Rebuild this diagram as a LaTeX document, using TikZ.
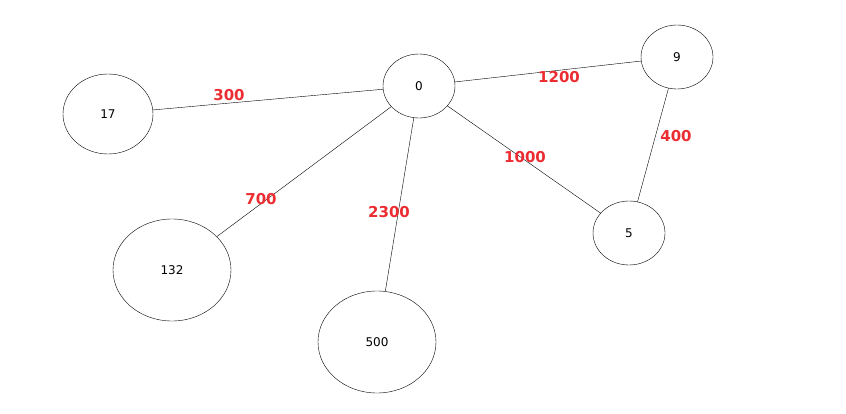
\documentclass[tikz,border=0pt]{standalone}
\usepackage{fontspec}
\setmainfont{DejaVu Sans}
\usetikzlibrary{shapes.geometric}
\definecolor{lbl}{RGB}{235,45,50}
\begin{document}
\begin{tikzpicture}[x=1pt,y=-1pt,
  vert/.style={draw,ellipse,inner sep=0pt,font=\fontsize{12}{14}\selectfont},
  wt/.style={text=lbl,font=\bfseries\fontsize{15}{17}\selectfont}]
\useasboundingbox (0,0) rectangle (846,414);
\node[vert,minimum width=72,minimum height=64] (n0) at (419,86) {0};
\node[vert,minimum width=72,minimum height=64] (n9) at (677,57) {9};
\node[vert,minimum width=90,minimum height=80] (n17) at (108,114) {17};
\node[vert,minimum width=72,minimum height=64] (n5) at (629,233) {5};
\node[vert,minimum width=118,minimum height=102] (n132) at (172,270) {132};
\node[vert,minimum width=118,minimum height=102] (n500) at (377,342) {500};
\draw (n17) -- (n0);
\draw (n0) -- (n132);
\draw (n0) -- (n500);
\draw (n0) -- (n9);
\draw (n0) -- (n5);
\draw (n9) -- (n5);
\node[wt] (w1) at (229,95) {300};
\node[wt] (w2) at (261,199) {700};
\node[wt] (w3) at (389,212) {2300};
\node[wt] (w4) at (525,157) {1000};
\node[wt] (w5) at (559,77) {1200};
\node[wt] (w6) at (676,136) {400};
\end{tikzpicture}
\end{document}
